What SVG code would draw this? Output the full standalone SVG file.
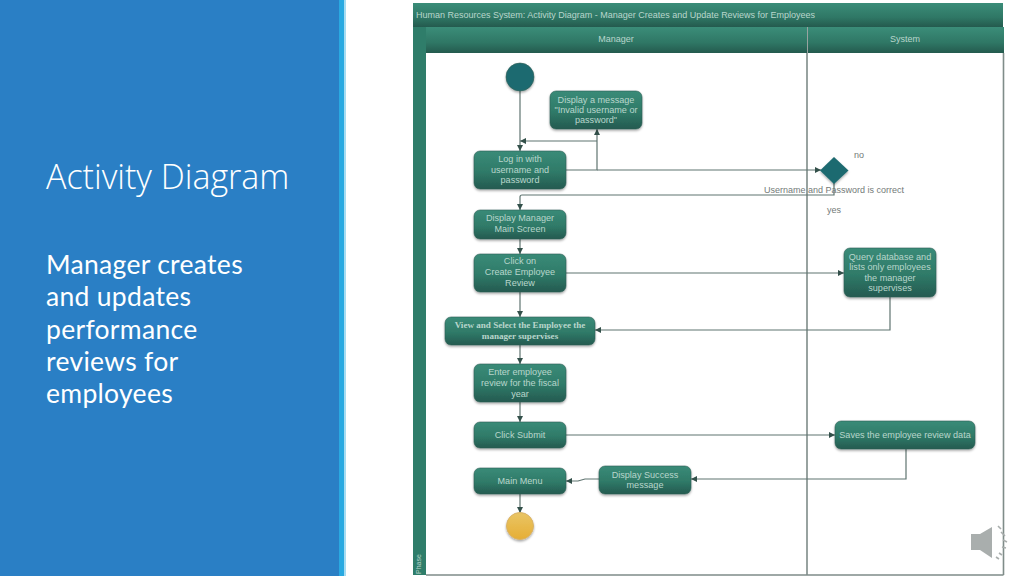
<svg xmlns="http://www.w3.org/2000/svg" width="1024" height="576" viewBox="0 0 1024 576">
<style>
.n{fill:url(#g);stroke:#2f5f55;stroke-width:.6;filter:url(#s)}
.t{font-family:"Liberation Sans",Arial,sans-serif;font-size:9.100px;fill:#b9d6cc;text-anchor:middle}
.h{font-family:"Liberation Sans",Arial,sans-serif;font-size:9px;fill:#b9d6cc;text-anchor:middle}
.l{font-family:"Liberation Sans",Arial,sans-serif;font-size:9px;fill:#737a78;text-anchor:middle}
.s{font-family:"Open Sans",sans-serif;font-weight:300;font-size:34px;fill:#fff}
.b{font-family:Lato,"Open Sans",sans-serif;font-size:26.500px;letter-spacing:.3px;fill:#fff}
.c{fill:none;stroke:#5f7470;stroke-width:1.2}
.w{fill:none;stroke:#7f8c89;stroke-width:1.6}
</style>
<defs>
<linearGradient id="g" x1="0" y1="0" x2="0" y2="1"><stop offset="0" stop-color="#3a8b78"/><stop offset=".55" stop-color="#2f7a68"/><stop offset="1" stop-color="#255a50"/></linearGradient>
<linearGradient id="hg" x1="0" y1="0" x2="0" y2="1"><stop offset="0" stop-color="#3b8d79"/><stop offset=".6" stop-color="#2f7765"/><stop offset="1" stop-color="#245a4e"/></linearGradient>
<linearGradient id="y" x1="0" y1="0" x2="0" y2="1"><stop offset="0" stop-color="#e9c565"/><stop offset="1" stop-color="#e6ae35"/></linearGradient>
<filter id="s" x="-10%" y="-15%" width="120%" height="135%"><feDropShadow dx="0" dy="1.500" stdDeviation="1.200" flood-color="#000" flood-opacity=".35"/></filter>
<marker id="a" markerWidth="6" markerHeight="6" refX="5" refY="3" orient="auto"><path d="M0 .5L5 3L0 5.500Z" fill="#33504a"/></marker>
</defs>
<rect width="1024" height="576" fill="#fff"/>
<rect width="339" height="576" fill="#2a7fc5"/>
<rect x="339" width="5" height="576" fill="#29a9e1"/>
<rect x="344" width="2" height="576" fill="#a5dcf2"/>
<text class="s" x="46" y="189">Activity Diagram</text>
<text class="b"><tspan x="46" y="274">Manager creates</tspan><tspan x="46" y="306">and updates</tspan><tspan x="46" y="339">performance</tspan><tspan x="46" y="371">reviews for</tspan><tspan x="46" y="403">employees</tspan></text>
<g id="frame">
<rect x="413" y="53" width="590" height="522" fill="#fff"/>
<path class="w" d="M1003.500 53V575M807 27V575M426 575H1003.500"/>
<rect x="413" y="3" width="590" height="24" fill="url(#hg)"/>
<rect x="413" y="27" width="13" height="548" fill="#2f7d6a"/>
<rect x="426" y="27" width="381" height="26" fill="url(#hg)"/>
<rect x="808" y="27" width="196" height="26" fill="url(#hg)"/>
<text class="h" x="416" y="18" style="text-anchor:start" textLength="399">Human Resources System: Activity Diagram - Manager Creates and Update Reviews for Employees</text>
<text class="h" x="616" y="42">Manager</text>
<text class="h" x="905" y="42">System</text>
<text class="h" transform="translate(421,574) rotate(-90)" style="text-anchor:start;font-size:7px">Phase</text>
</g>
<g id="connectors">
<path class="c" d="M520 91V151" marker-end="url(#a)"/>
<path class="c" d="M597 141H520" marker-end="url(#a)"/>
<path class="c" d="M566 170H597V129" marker-end="url(#a)"/>
<path class="c" d="M597 170H821" marker-end="url(#a)"/>
<path class="c" d="M834 183V195H522Q520 195 520 197V210" marker-end="url(#a)"/>
<path class="c" d="M520 239V254" marker-end="url(#a)"/>
<path class="c" d="M566 273H844" marker-end="url(#a)"/>
<path class="c" d="M520 292V317" marker-end="url(#a)"/>
<path class="c" d="M890 297V330H595" marker-end="url(#a)"/>
<path class="c" d="M520 345V364" marker-end="url(#a)"/>
<path class="c" d="M520 402V422" marker-end="url(#a)"/>
<path class="c" d="M566 435H835" marker-end="url(#a)"/>
<path class="c" d="M906 449V479H691" marker-end="url(#a)"/>
<path class="c" d="M599 479H585L578 481H566" marker-end="url(#a)"/>
<path class="c" d="M520 494V513" marker-end="url(#a)"/>
</g>
<g id="start"><circle cx="520" cy="77" r="14" fill="#1f6a70" stroke="#2f5f55" stroke-width=".6" filter="url(#s)"/></g>
<g id="invalid"><rect class="n" x="550" y="91" width="92" height="38" rx="6"/><text class="t"><tspan x="596" y="103">Display a message</tspan><tspan x="596" y="113">"Invalid username or</tspan><tspan x="596" y="123">password"</tspan></text></g>
<g id="login"><rect class="n" x="474" y="151" width="92" height="38" rx="6"/><text class="t"><tspan x="520" y="162">Log in with</tspan><tspan x="520" y="173">username and</tspan><tspan x="520" y="183">password</tspan></text></g>
<g id="decision"><path d="M834 157L848.500 170.500L834 184L820 170.500Z" fill="#1f6a70" filter="url(#s)"/></g>
<g id="labels"><text class="l" x="834" y="193">Username and Password is correct</text><text class="l" x="859" y="158">no</text><text class="l" x="834" y="213">yes</text></g>
<g id="mainscreen"><rect class="n" x="474" y="210" width="92" height="29" rx="6"/><text class="t"><tspan x="520" y="221">Display Manager</tspan><tspan x="520" y="232">Main Screen</tspan></text></g>
<g id="create"><rect class="n" x="474" y="254" width="92" height="38" rx="6"/><text class="t"><tspan x="520" y="264">Click on</tspan><tspan x="520" y="275">Create Employee</tspan><tspan x="520" y="286">Review</tspan></text></g>
<g id="query"><rect class="n" x="844" y="248" width="92" height="49" rx="6"/><text class="t"><tspan x="890" y="260">Query database and</tspan><tspan x="890" y="270">lists only employees</tspan><tspan x="890" y="281">the manager</tspan><tspan x="890" y="291">supervises</tspan></text></g>
<g id="select"><rect class="n" x="445" y="317" width="150" height="28" rx="6"/><text class="t" style="font-family:'Liberation Serif',serif;font-weight:bold"><tspan x="520" y="328">View and Select the Employee the</tspan><tspan x="520" y="339">manager supervises</tspan></text></g>
<g id="enter"><rect class="n" x="474" y="364" width="92" height="38" rx="6"/><text class="t"><tspan x="520" y="375">Enter employee</tspan><tspan x="520" y="386">review for the fiscal</tspan><tspan x="520" y="397">year</tspan></text></g>
<g id="submit"><rect class="n" x="474" y="422" width="92" height="26" rx="6"/><text class="t" x="520" y="438">Click Submit</text></g>
<g id="saves"><rect class="n" x="835" y="421" width="140" height="28" rx="6"/><text class="t" x="905" y="438">Saves the employee review data</text></g>
<g id="mainmenu"><rect class="n" x="474" y="468" width="92" height="26" rx="6"/><text class="t" x="520" y="484">Main Menu</text></g>
<g id="success"><rect class="n" x="599" y="466" width="92" height="28" rx="6"/><text class="t"><tspan x="645" y="478">Display Success</tspan><tspan x="645" y="488">message</tspan></text></g>
<g id="end"><circle cx="520" cy="526" r="13.500" fill="url(#y)" stroke="#d9b266" filter="url(#s)"/></g>
<g id="speaker" fill="#a9aead"><path d="M971 534H980L992 527V558L980 550H971Z"/><path d="M998 526l3 3M1001 532l4 4M1003 540l4 2M1002 547l4 1M999 553l3 2M996 557l3 2" stroke="#a9aead" stroke-width="1.600" fill="none"/></g>
</svg>
